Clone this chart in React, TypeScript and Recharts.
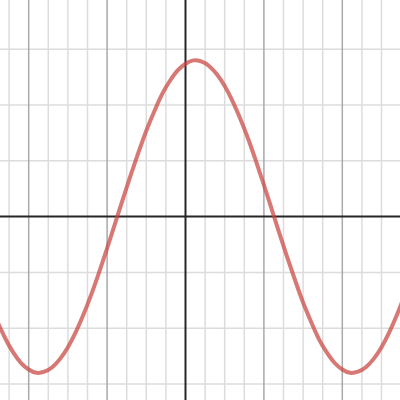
import { LineChart, Line, XAxis, YAxis, ReferenceLine } from 'recharts';

// sample positions along x (major grid = 1, minor grid = 0.25)
const xs = [
  -2.4, -2.3, -2.2, -2.1, -2.0, -1.9, -1.8, -1.7, -1.6, -1.5, -1.4, -1.3, -1.2, -1.1, -1.0,
  -0.9, -0.8, -0.7, -0.6, -0.5, -0.4, -0.3, -0.2, -0.1, 0, 0.1, 0.2, 0.3, 0.4, 0.5, 0.6,
  0.7, 0.8, 0.9, 1.0, 1.1, 1.2, 1.3, 1.4, 1.5, 1.6, 1.7, 1.8, 1.9, 2.0, 2.1, 2.2, 2.3,
  2.4, 2.5, 2.6, 2.7, 2.8,
];

// curve heights (horizontal grid = 1)
const ys = [
  -1.88, -2.18, -2.43, -2.62, -2.74, -2.8, -2.78, -2.7, -2.55, -2.34, -2.07, -1.75, -1.39,
  -0.99, -0.57, -0.13, 0.31, 0.74, 1.15, 1.54, 1.88, 2.19, 2.43, 2.62, 2.74, 2.8, 2.78,
  2.7, 2.55, 2.34, 2.07, 1.75, 1.39, 0.99, 0.57, 0.13, -0.31, -0.74, -1.15, -1.54, -1.88,
  -2.19, -2.43, -2.62, -2.74, -2.8, -2.78, -2.7, -2.55, -2.34, -2.07, -1.75, -1.39,
];

const minorX = [
  -2.25, -1.75, -1.5, -1.25, -0.75, -0.5, -0.25, 0.25, 0.5, 0.75, 1.25, 1.5, 1.75, 2.25, 2.5,
];
const majorX = [-2, -1, 1, 2];
const gridY = [-3, -2, -1, 1, 2, 3];

const data = xs.map((x, i) => ({ x, y: ys[i] }));

export default function App() {
  return (
    <div style={{ position: 'absolute', top: 0, left: 0, background: '#fff' }}>
      <LineChart width={400} height={400} data={data} margin={{ top: 0, right: 0, bottom: 0, left: 0 }}>
        <XAxis dataKey="x" type="number" domain={[-2.366, 2.736]} allowDataOverflow hide />
        <YAxis type="number" domain={[-3.287, 3.882]} allowDataOverflow hide />
        {minorX.map(v => (
          <ReferenceLine key={`mx${v}`} x={v} stroke="#dcdcdc" strokeWidth={1.5} />
        ))}
        {gridY.map(v => (
          <ReferenceLine key={`gy${v}`} y={v} stroke="#dcdcdc" strokeWidth={1.5} />
        ))}
        {majorX.map(v => (
          <ReferenceLine key={`Mx${v}`} x={v} stroke="#a9a9a9" strokeWidth={1.5} />
        ))}
        <ReferenceLine x={0} stroke="#262626" strokeWidth={2} />
        <ReferenceLine y={0} stroke="#262626" strokeWidth={2} />
        <Line
          dataKey="y"
          type="natural"
          stroke="#c74440"
          strokeOpacity={0.72}
          strokeWidth={4}
          dot={false}
          isAnimationActive={false}
        />
      </LineChart>
    </div>
  );
}
